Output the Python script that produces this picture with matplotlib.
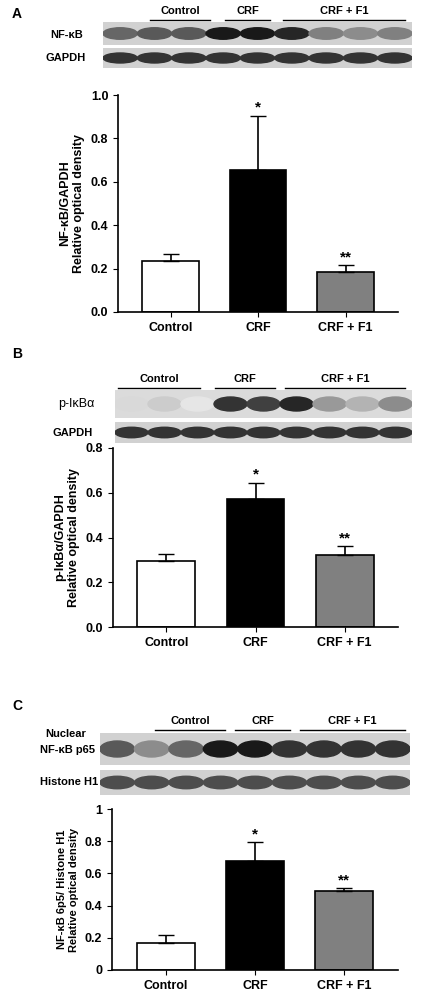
import matplotlib.pyplot as plt
from matplotlib.patches import Ellipse, Rectangle

plt.rcParams['font.family'] = ['Liberation Sans', 'DejaVu Sans']

W, H = 423, 1000
groups = ["Control", "CRF", "CRF + F1"]

# bar values
nfkb_mean = [0.235, 0.655, 0.185]
nfkb_err = [0.03, 0.25, 0.03]
pikb_mean = [0.295, 0.57, 0.32]
pikb_err = [0.03, 0.075, 0.04]
p65_mean = [0.17, 0.675, 0.49]
p65_err = [0.05, 0.12, 0.02]
stars = ["", "*", "**"]

# band darkness per lane (0 white .. 1 black)
bandA_top = [0.6, 0.65, 0.65, 0.9, 0.9, 0.85, 0.5, 0.45, 0.5]
bandA_bot = [0.8] * 9
bandB_top = [0.15, 0.2, 0.1, 0.8, 0.75, 0.85, 0.4, 0.3, 0.45]
bandB_bot = [0.8] * 9
bandC_top = [0.65, 0.45, 0.6, 0.9, 0.9, 0.8, 0.8, 0.8, 0.8]
bandC_bot = [0.7] * 9

fig = plt.figure(figsize=(W / 100, H / 100), dpi=100)


def ax_px(x0, y0, x1, y1):
    return fig.add_axes([x0 / W, 1 - y1 / H, (x1 - x0) / W, (y1 - y0) / H])


def blot(x0, y0, x1, y1, dark, bg=0.82):
    ax = ax_px(x0, y0, x1, y1)
    ax.set_xlim(0, len(dark))
    ax.set_ylim(0, 1)
    ax.axis("off")
    ax.add_patch(Rectangle((0, 0), len(dark), 1, color=str(bg)))
    for i, d in enumerate(dark):
        ax.add_patch(Ellipse((i + 0.5, 0.5), 1.0, 0.5, color=str(1 - d)))


def group_labels(y, spans):
    for name, (a, b) in zip(groups, spans):
        fig.text((a + b) / 2 / W, 1 - (y - 4) / H, name, ha="center", va="bottom",
                 fontsize=8, fontweight="bold")
        fig.add_artist(plt.Line2D([a / W, b / W], [1 - y / H] * 2, color="black", lw=1))


def bars(box, mean, err, ymax, step, ylabel, labels=None):
    ax = ax_px(*box)
    colors = ["white", "black", "#808080"]
    x = range(3)
    ax.bar(x, mean, width=0.65, color=colors, edgecolor="black", lw=1.2)
    ax.errorbar(x, mean, yerr=[[0] * 3, err], fmt="none", ecolor="black", capsize=6, lw=1.2)
    for i in x:
        ax.text(i, mean[i] + err[i] + ymax * 0.005, stars[i], ha="center", va="bottom",
                fontsize=11, fontweight="bold")
    ax.set_ylim(0, ymax)
    ax.set_xlim(-0.6, 2.6)
    ticks = [round(step * k, 2) for k in range(int(round(ymax / step)) + 1)]
    ax.set_yticks(ticks)
    ax.set_yticklabels(labels or [f"{t:.1f}" for t in ticks], fontweight="bold", fontsize=9)
    ax.set_xticks(list(x))
    ax.set_xticklabels(groups, fontweight="bold", fontsize=9)
    ax.spines["top"].set_visible(False)
    ax.spines["right"].set_visible(False)
    ax.spines["left"].set_linewidth(1.2)
    ax.spines["bottom"].set_linewidth(1.2)
    ax.set_ylabel(ylabel, fontweight="bold", fontsize=9)
    return ax


# Panel A
fig.text(12 / W, 1 - 18 / H, "A", fontweight="bold", fontsize=10)
group_labels(20, [(150, 210), (225, 270), (283, 405)])
blot(103, 22, 412, 45, bandA_top)
blot(103, 48, 412, 68, bandA_bot)
fig.text(50 / W, 1 - 35 / H, "NF-κB", fontweight="bold", fontsize=8, va="center")
fig.text(45 / W, 1 - 58 / H, "GAPDH", fontweight="bold", fontsize=8, va="center")
bars((118, 95, 398, 312), nfkb_mean, nfkb_err, 1.0, 0.2,
     "NF-κB/GAPDH\nRelative optical density")

# Panel B
fig.text(12 / W, 1 - 358 / H, "B", fontweight="bold", fontsize=10)
group_labels(388, [(118, 200), (215, 275), (285, 405)])
blot(115, 390, 412, 418, bandB_top, bg=0.86)
blot(115, 422, 412, 443, bandB_bot)
fig.text(58 / W, 1 - 404 / H, "p-IκBα", fontsize=9, va="center")
fig.text(52 / W, 1 - 433 / H, "GAPDH", fontweight="bold", fontsize=8, va="center")
bars((113, 448, 398, 627), pikb_mean, pikb_err, 0.8, 0.2,
     "p-IκBα/GAPDH\nRelative optical density")

# Panel C
fig.text(12 / W, 1 - 710 / H, "C", fontweight="bold", fontsize=10)
group_labels(730, [(155, 225), (235, 290), (300, 405)])
blot(100, 733, 410, 765, bandC_top)
blot(100, 770, 410, 795, bandC_bot)
fig.text(45 / W, 1 - 734 / H, "Nuclear", fontweight="bold", fontsize=8, va="center")
fig.text(40 / W, 1 - 750 / H, "NF-κB p65", fontweight="bold", fontsize=8, va="center")
fig.text(40 / W, 1 - 782 / H, "Histone H1", fontweight="bold", fontsize=8, va="center")
axc = bars((112, 809, 398, 970), p65_mean, p65_err, 1.0, 0.2,
           "NF-κB 6p5/ Histone H1\nRelative optical density",
           labels=["0", "0.2", "0.4", "0.6", "0.8", "1"])
axc.yaxis.label.set_fontsize(8)

fig.savefig("out.png", dpi=100)
